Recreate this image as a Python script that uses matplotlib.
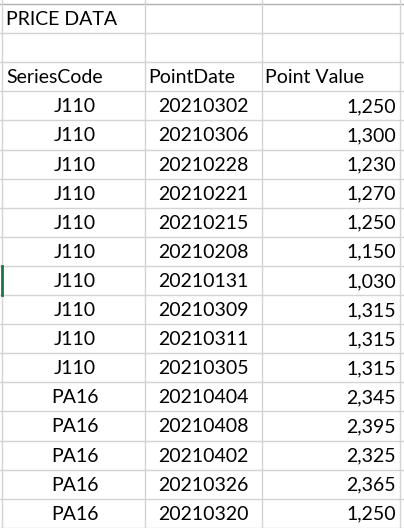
import matplotlib
matplotlib.use("Agg")
import matplotlib.pyplot as plt

title = "PRICE DATA"
headers = ["SeriesCode", "PointDate", "Point Value"]
codes = ["J110"] * 10 + ["PA16"] * 5
dates = ["20210302", "20210306", "20210228", "20210221", "20210215", "20210208",
         "20210131", "20210309", "20210311", "20210305", "20210404", "20210408",
         "20210402", "20210326", "20210320"]
values = [1250, 1300, 1230, 1270, 1250, 1150, 1030, 1315, 1315, 1315,
          2345, 2395, 2325, 2365, 1250]

W, H = 404, 528
fig = plt.figure(figsize=(W / 100, H / 100), dpi=100)
ax = fig.add_axes([0, 0, 1, 1])
ax.set_xlim(0, W)
ax.set_ylim(H, 0)
ax.axis("off")

fam = ["Lato", "DejaVu Sans"]
fs = 14
rh = 29.1
top = 4
xs = [2, 145, 262, 400]
nrows = 3 + len(codes)
grid = "#d4d4d4"
for i in range(nrows + 1):
    y = top + i * rh
    ax.plot([0, W], [y, y], color=grid if i else "#b0b0b0", lw=1)
for x in xs:
    ax.plot([x, x], [0, H], color=grid, lw=1)
ax.plot([2, 2], [top + 9 * rh, top + 10 * rh], color="#217346", lw=2)

def yc(r):
    return top + r * rh + rh / 2 + 1

ax.text(6, yc(0), title, fontsize=fs, family=fam, va="center", ha="left")
for x, h in zip([6, 148, 265], headers):
    ax.text(x, yc(2), h, fontsize=fs, family=fam, va="center", ha="left")
for i, (c, d, v) in enumerate(zip(codes, dates, values)):
    r = 3 + i
    ax.text(75, yc(r), c, fontsize=fs, family=fam, va="center", ha="center")
    ax.text(203, yc(r), d, fontsize=fs, family=fam, va="center", ha="center")
    ax.text(396, yc(r), f"{v:,}", fontsize=fs, family=fam, va="center", ha="right")

fig.savefig("out.png", dpi=100, facecolor="white")
